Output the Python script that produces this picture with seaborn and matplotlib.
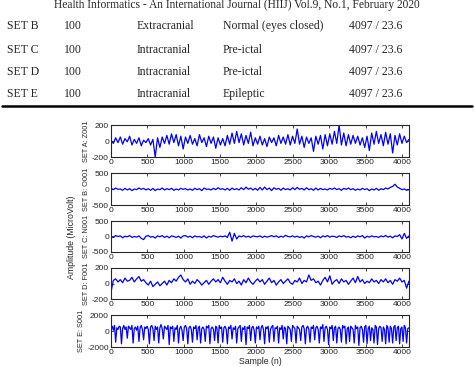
import matplotlib

matplotlib.use("Agg")

import matplotlib.pyplot as plt
import numpy as np
import seaborn as sns

# ------------------------------------------------------------------
# data (A-D one value every 32 samples,
# E one value every 16 samples)
# ------------------------------------------------------------------
header = "Health Informatics - An International Journal (HIIJ) Vol.9, No.1, February 2020"
table_rows = [
    ["SET B", "100", "Extracranial", "Normal (eyes closed)", "4097 / 23.6"],
    ["SET C", "100", "Intracranial", "Pre-ictal", "4097 / 23.6"],
    ["SET D", "100", "Intracranial", "Pre-ictal", "4097 / 23.6"],
    ["SET E", "100", "Intracranial", "Epileptic", "4097 / 23.6"],
]

panel_names = ["SET A: Z001", "SET B: O001", "SET C: N001", "SET D: F001", "SET E: S001"]
panel_ylims = [200, 500, 500, 200, 2000]
x_ticks = [0, 500, 1000, 1500, 2000, 2500, 3000, 3500, 4000]
n_samples = 4097

set_a = [
    10, -30, 40, -20, 50, -40, 30, -10, 60, -50, 20, -30, 40, -60, 10, -20,
    30, -50, 20, -200, 40, -80, 50, -30, 70, -40, 90, -20, 80, -60, 60, -100,
    50, -30, 70, -40, 30, -60, 80, -20, 40, -70, 60, -30, 50, -90, 40, -50,
    30, -60, 70, -40, 100, -30, 120, -20, 90, -50, 70, -30, 110, -60, 40, -40,
    60, -50, 30, -70, 50, -20, 40, -60, 70, -30, 50, -40, 80, -50, 60, -30,
    150, -40, 60, -80, 50, -30, 40, -130, 60, -40, 70, -100, 80, -60, 90, -40,
    120, -30, 200, -50, 100, -60, 80, -40, 70, -30, 60, -50, 40, -80, 60, -120,
    100, -40, 120, -30, 80, -60, 110, -40, 90, -150, 70, -50, 90, -30, 60, -20,
    20,
]
set_b = [
    20, -20, 30, -10, 0, -40, 20, -30, 10, -50, 0, -20, 30, -10, 20, -30,
    10, -40, 20, -50, 0, -20, 30, -30, 10, -20, 20, -40, 0, -30, 20, -10,
    10, -30, 0, -40, 20, -20, 10, -50, 30, -10, 0, -30, 20, -20, 40, -10,
    10, -30, 20, -40, 30, -20, 10, -30, 40, -20, 60, -10, 30, -30, 20, -40,
    50, -30, 60, -20, 30, -50, 40, -10, 20, -40, 30, -20, 10, -30, 40, -20,
    50, -10, 20, -30, 40, -20, 10, -40, 30, -30, 20, -20, 0, -30, 20, -10,
    30, -20, 10, -40, 20, -10, 30, -20, 10, -40, 0, -30, 20, -20, 10, -50,
    0, -30, 20, -40, 10, -20, 30, 0, 50, 80, 150, 60, 20, -20, 0, -40,
    -20,
]
set_c = [
    10, -20, 30, 0, 20, -40, 10, -10, 30, -30, 0, -20, 20, -60, -100, 10,
    30, -20, 0, -50, 20, -10, 30, -30, 10, -40, 20, 0, -30, 10, -50, 20,
    30, -20, 10, -40, 20, -10, 0, -30, 20, -50, 10, -20, 30, 0, -20, 10,
    -10, 20, -30, 140, -150, 100, -80, 20, -10, 30, -20, 10, -30, 20, 0, -10,
    20, -30, 10, -20, 0, 30, -10, 20, -30, 10, -20, 40, 0, -10, 20, -20,
    10, -30, 0, -50, 20, -10, 30, 0, -20, 10, -40, 20, -10, 30, -20, 10,
    0, -30, 20, -10, 30, -20, 0, -40, 10, -30, 20, -10, 30, -50, 10, -20,
    20, -10, 0, -30, 20, -10, 30, -20, 10, -40, 20, 0, 60, -80, 100, -60,
    20,
]
set_d = [
    -110, 40, 60, 20, 50, 10, 70, 30, 40, 80, 20, 60, 90, 30, 50, 10,
    -20, 30, -40, -10, 20, -30, 0, 30, -20, 40, 10, 60, 30, 80, 110, 50,
    20, 60, -10, 30, 0, 50, 20, -20, 10, 40, -10, 30, 60, 20, 50, 10,
    80, 30, -10, 40, 20, 60, 0, 30, -20, 50, 10, 70, 20, -10, 30, 60,
    20, 50, -10, 30, 70, 10, 40, -20, 20, 50, 0, 30, 60, 10, -10, 40,
    20, 70, 0, 40, 20, 110, 40, 60, 10, 30, -20, 40, 80, 20, 100, -10,
    30, 50, 0, 60, 20, 40, -10, 30, 70, 10, 90, 20, 50, 0, 30, 10,
    60, 20, 40, 0, 50, 20, 60, 10, 40, -10, 50, 30, 70, 20, 40, -60,
    30,
]
set_e = [
    300, 600, 100, 700, -1400, 400, 200, 600, 500, -1600, 300, 700, 200, 500, -900, 600,
    400, 200, 700, -1500, 300, 500, 100, 600, -1300, 400, 700, 200, -1100, 500, 300, 600,
    200, -1600, 500, 700, 300, -1200, 600, 200, 500, -1500, 400, 800, 300, -1000, 600, 400,
    200, 700, -1700, 500, 300, 600, -1300, 400, 200, 700, -1500, 300, 600, 100, -1200, 500,
    700, 300, -1600, 400, 600, 200, -1400, 500, 300, 700, -1100, 400, 600, -1500, 300, 500,
    200, -1300, 600, 400, 700, -1600, 300, 500, 200, -1200, 600, 400, -1500, 700, 300, 500,
    -1400, 400, 600, 200, -1600, 500, 300, 700, -1000, 400, 200, 600, -1500, 300, 500, 700,
    -1300, 400, 200, 600, -1700, 500, 300, 700, -1200, 400, 600, 100, -1500, 500, 300, 600,
    -1100, 400, 700, 200, -1600, 500, 300, 600, -1400, 200, 500, 700, -1300, 400, 300, 600,
    -1500, 400, 200, 700, -1000, 500, 300, -1600, 600, 400, 200, -1300, 700, 500, 300, -1500,
    600, 400, 200, -1200, 500, 700, 300, -1600, 400, 600, 200, -1400, 500, 300, 700, -1100,
    400, 600, 200, -1500, 500, 300, 800, -1300, 400, 600, 200, -1700, 500, 300, 700, -1200,
    400, 600, -1500, 300, 500, 200, -1400, 700, 400, 600, -1600, 300, 500, -1300, 600, 400,
    200, -1500, 700, 300, 500, -1800, 400, 600, 200, -1400, 500, 700, -1600, 300, 600, -1200,
    400, 200, -1500, 700, 500, -1700, 300, 600, 400, -1300, 500, 200, -1600, 700, 400, -1400,
    600, 300, -1500, 500, 700, -1200, 400, 600, -1600, 300, 500, -1300, 700, 400, -1500, 300,
    400,
]
signals = [set_a, set_b, set_c, set_d, set_e]

# ------------------------------------------------------------------
# layout
# ------------------------------------------------------------------
W, H, DPI = 474, 367, 100
sns.set_style("ticks")
plt.rcParams["font.family"] = ["Liberation Sans", "DejaVu Sans"]
plt.rcParams["axes.linewidth"] = 0.8
plt.rcParams["axes.unicode_minus"] = False

fig = plt.figure(figsize=(W / DPI, H / DPI), dpi=DPI)


def fx(px):
    return px / W


def fy(py):
    return 1 - py / H


serif = ["Liberation Serif", "DejaVu Serif"]
fig.text(fx(237), fy(5), header, ha="center", va="center", fontsize=8.3, family=serif)
col_x = [7, 64, 137, 223, 349]
row_y = [26, 50, 72, 94]
for row, y in zip(table_rows, row_y):
    for txt, x in zip(row, col_x):
        fig.text(fx(x), fy(y), txt, ha="left", va="center", fontsize=8.5, family=serif)
fig.add_artist(plt.Line2D([fx(2), fx(472)], [fy(105.5), fy(105.5)], color="black",
                          linewidth=1.8, transform=fig.transFigure))

# panel boxes (top, bottom) in pixels
panel_px = [(125, 157), (173, 205), (221, 252), (268, 299), (315, 347)]
left, right = 111, 409

for sig, name, lim, (top, bot) in zip(signals, panel_names, panel_ylims, panel_px):
    ax = fig.add_axes([fx(left), fy(bot), fx(right - left), (bot - top) / H])
    xs = np.linspace(0, n_samples - 1, len(sig))
    sns.lineplot(x=xs, y=sig, ax=ax, color=(0, 0, 1), linewidth=0.9)
    ax.set_xlim(0, n_samples)
    ax.set_ylim(-lim, lim)
    ax.set_xticks(x_ticks)
    ax.set_yticks([-lim, 0, lim])
    ax.tick_params(direction="in", top=True, right=True, length=2.5, width=0.6,
                   labelsize=6.0, pad=1.5)
    ax.set_ylabel(name, fontsize=5.3, labelpad=1.5)

fig.text(fx(72), fy(237), "Amplitude (MicroVolt)", rotation=90, ha="center",
         va="center", fontsize=6.3)
fig.text(fx(260), fy(362), "Sample (n)", ha="center", va="center", fontsize=6.3)

fig.savefig("out.png", dpi=DPI)
plt.close(fig)
